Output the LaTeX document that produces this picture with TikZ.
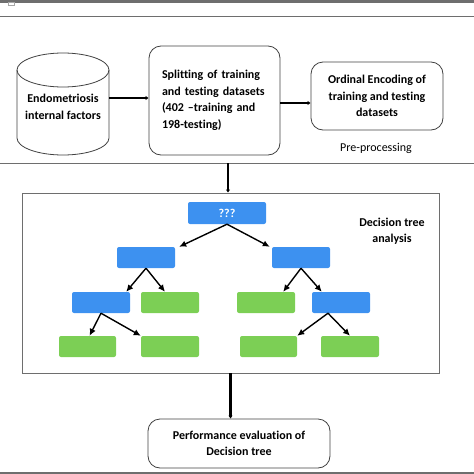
\documentclass[tikz,border=0pt]{standalone}
\usepackage{fontspec}
\setmainfont{Carlito}[Ligatures=NoCommon]
\usetikzlibrary{arrows,arrows.meta,positioning}
\definecolor{treeblue}{RGB}{61,145,240}
\definecolor{treegreen}{RGB}{124,207,85}
\definecolor{rulegray}{RGB}{110,110,110}

\begin{document}
\begin{tikzpicture}[x=1pt,y=-1pt,
        every node/.style={font=\fontsize{12}{16.5}\selectfont\bfseries},
        block/.style={draw=black!75,line width=0.8pt,rectangle,rounded corners=12pt,inner sep=0pt},
        tnode/.style={rectangle,rounded corners=2pt,minimum width=58pt,minimum height=21pt,inner sep=0pt},
        tblue/.style={tnode,fill=treeblue},
        tgreen/.style={tnode,fill=treegreen},
        conn/.style={line width=2.4pt,-{Latex[length=3pt,width=4.5pt]}},
        tedge/.style={line width=1.4pt,-{Latex[length=7pt,width=6.5pt]}}]
   \useasboundingbox (0,0) rectangle (474,474);
   % page rules
   \fill[rulegray] (0,0) rectangle (474,2.5);
   \draw[gray!70,line width=0.5pt] (8,2.5) rectangle (14,5);
   \draw[rulegray,line width=0.9pt] (0,16) -- (474,16);
   \draw[rulegray,line width=0.9pt] (0,163) -- (474,163);
   \fill[rulegray] (0,472) rectangle (474,474);

   % pre-processing row
   \node (db) [minimum width=92pt,inner sep=0pt,align=center] at (63,107)
        {Endometriosis\\internal factors};
   \draw[black!75,line width=0.8pt] (17,70) -- (17,138) arc (180:0:46 and 17) -- (109,70);
   \draw[black!75,line width=0.8pt] (63,70) ellipse (46 and 17);
   \node (split) [block,minimum width=131pt,minimum height=109pt,text width=105pt,align=left] at (214.5,100.5)
        {Splitting of training\\and testing datasets\\(402 --training and\\198-testing)};
   \node (ord) [block,minimum width=132pt,minimum height=68pt,align=center] at (377,96)
        {Ordinal Encoding of\\training and testing\\datasets};
   \node (pre) [font=\fontsize{12}{16.5}\selectfont] at (376,148) {Pre-processing};
   \draw[conn] ([yshift=9pt]db.east) -- ([yshift=9pt]db.east -| split.west);
   \draw[conn] ([yshift=-2.5pt]split.east) -- ([yshift=-2.5pt]split.east -| ord.west);

   % decision tree
   \coordinate (cut) at (228,163);
   \node (tree) [draw=rulegray,line width=0.9pt,rectangle,minimum width=417pt,minimum height=180pt,inner sep=0pt] at (230.5,283) {};
   \node (lbl) [align=center] at (392,231) {Decision tree\\analysis};
   \draw[conn] (cut) -- (cut |- tree.north);

   \node (root) [tblue,minimum width=78pt,minimum height=22pt,text=white] at (227,213) {???};
   \node (A) [tblue] at (146,257.5) {};
   \node (B) [tblue] at (301,257.5) {};
   \node (AA) [tblue] at (101,302.5) {};
   \node (AB) [tgreen] at (170,302.5) {};
   \node (BA) [tgreen] at (266,302.5) {};
   \node (BB) [tblue] at (341,302.5) {};
   \node (AAA) [tgreen,minimum width=57pt] at (87.5,346.5) {};
   \node (AAB) [tgreen] at (170,346.5) {};
   \node (BBA) [tgreen,minimum width=57pt] at (268.5,346.5) {};
   \node (BBB) [tgreen] at (350,346.5) {};

   \draw[tedge] (root.south) -- ([xshift=4pt]A.north east);
   \draw[tedge] (root.south) -- ([xshift=-2pt]B.north west);
   \draw[tedge] (A.south) -- ([xshift=-4pt]AA.north east);
   \draw[tedge] (A.south) -- ([xshift=-5pt]AB.north);
   \draw[tedge] (B.south) -- ([xshift=-12pt]BA.north east);
   \draw[tedge] (B.south) -- ([xshift=10pt]BB.north west);
   \draw[tedge] (AA.south) -- ([xshift=2pt]AAA.north);
   \draw[tedge] (AA.south) -- (AAB.north west);
   \draw[tedge] ([xshift=-13pt]BB.south) -- (BBA.north east);
   \draw[tedge] ([xshift=-13pt]BB.south) -- (BBB.north);

   % evaluation
   \node (perf) [block,minimum width=182pt,minimum height=49pt,align=center] at (239,443.5)
        {Performance evaluation of\\Decision tree};
   \draw[conn] (tree.south) -- (tree.south |- perf.north);

\end{tikzpicture}
\end{document}
